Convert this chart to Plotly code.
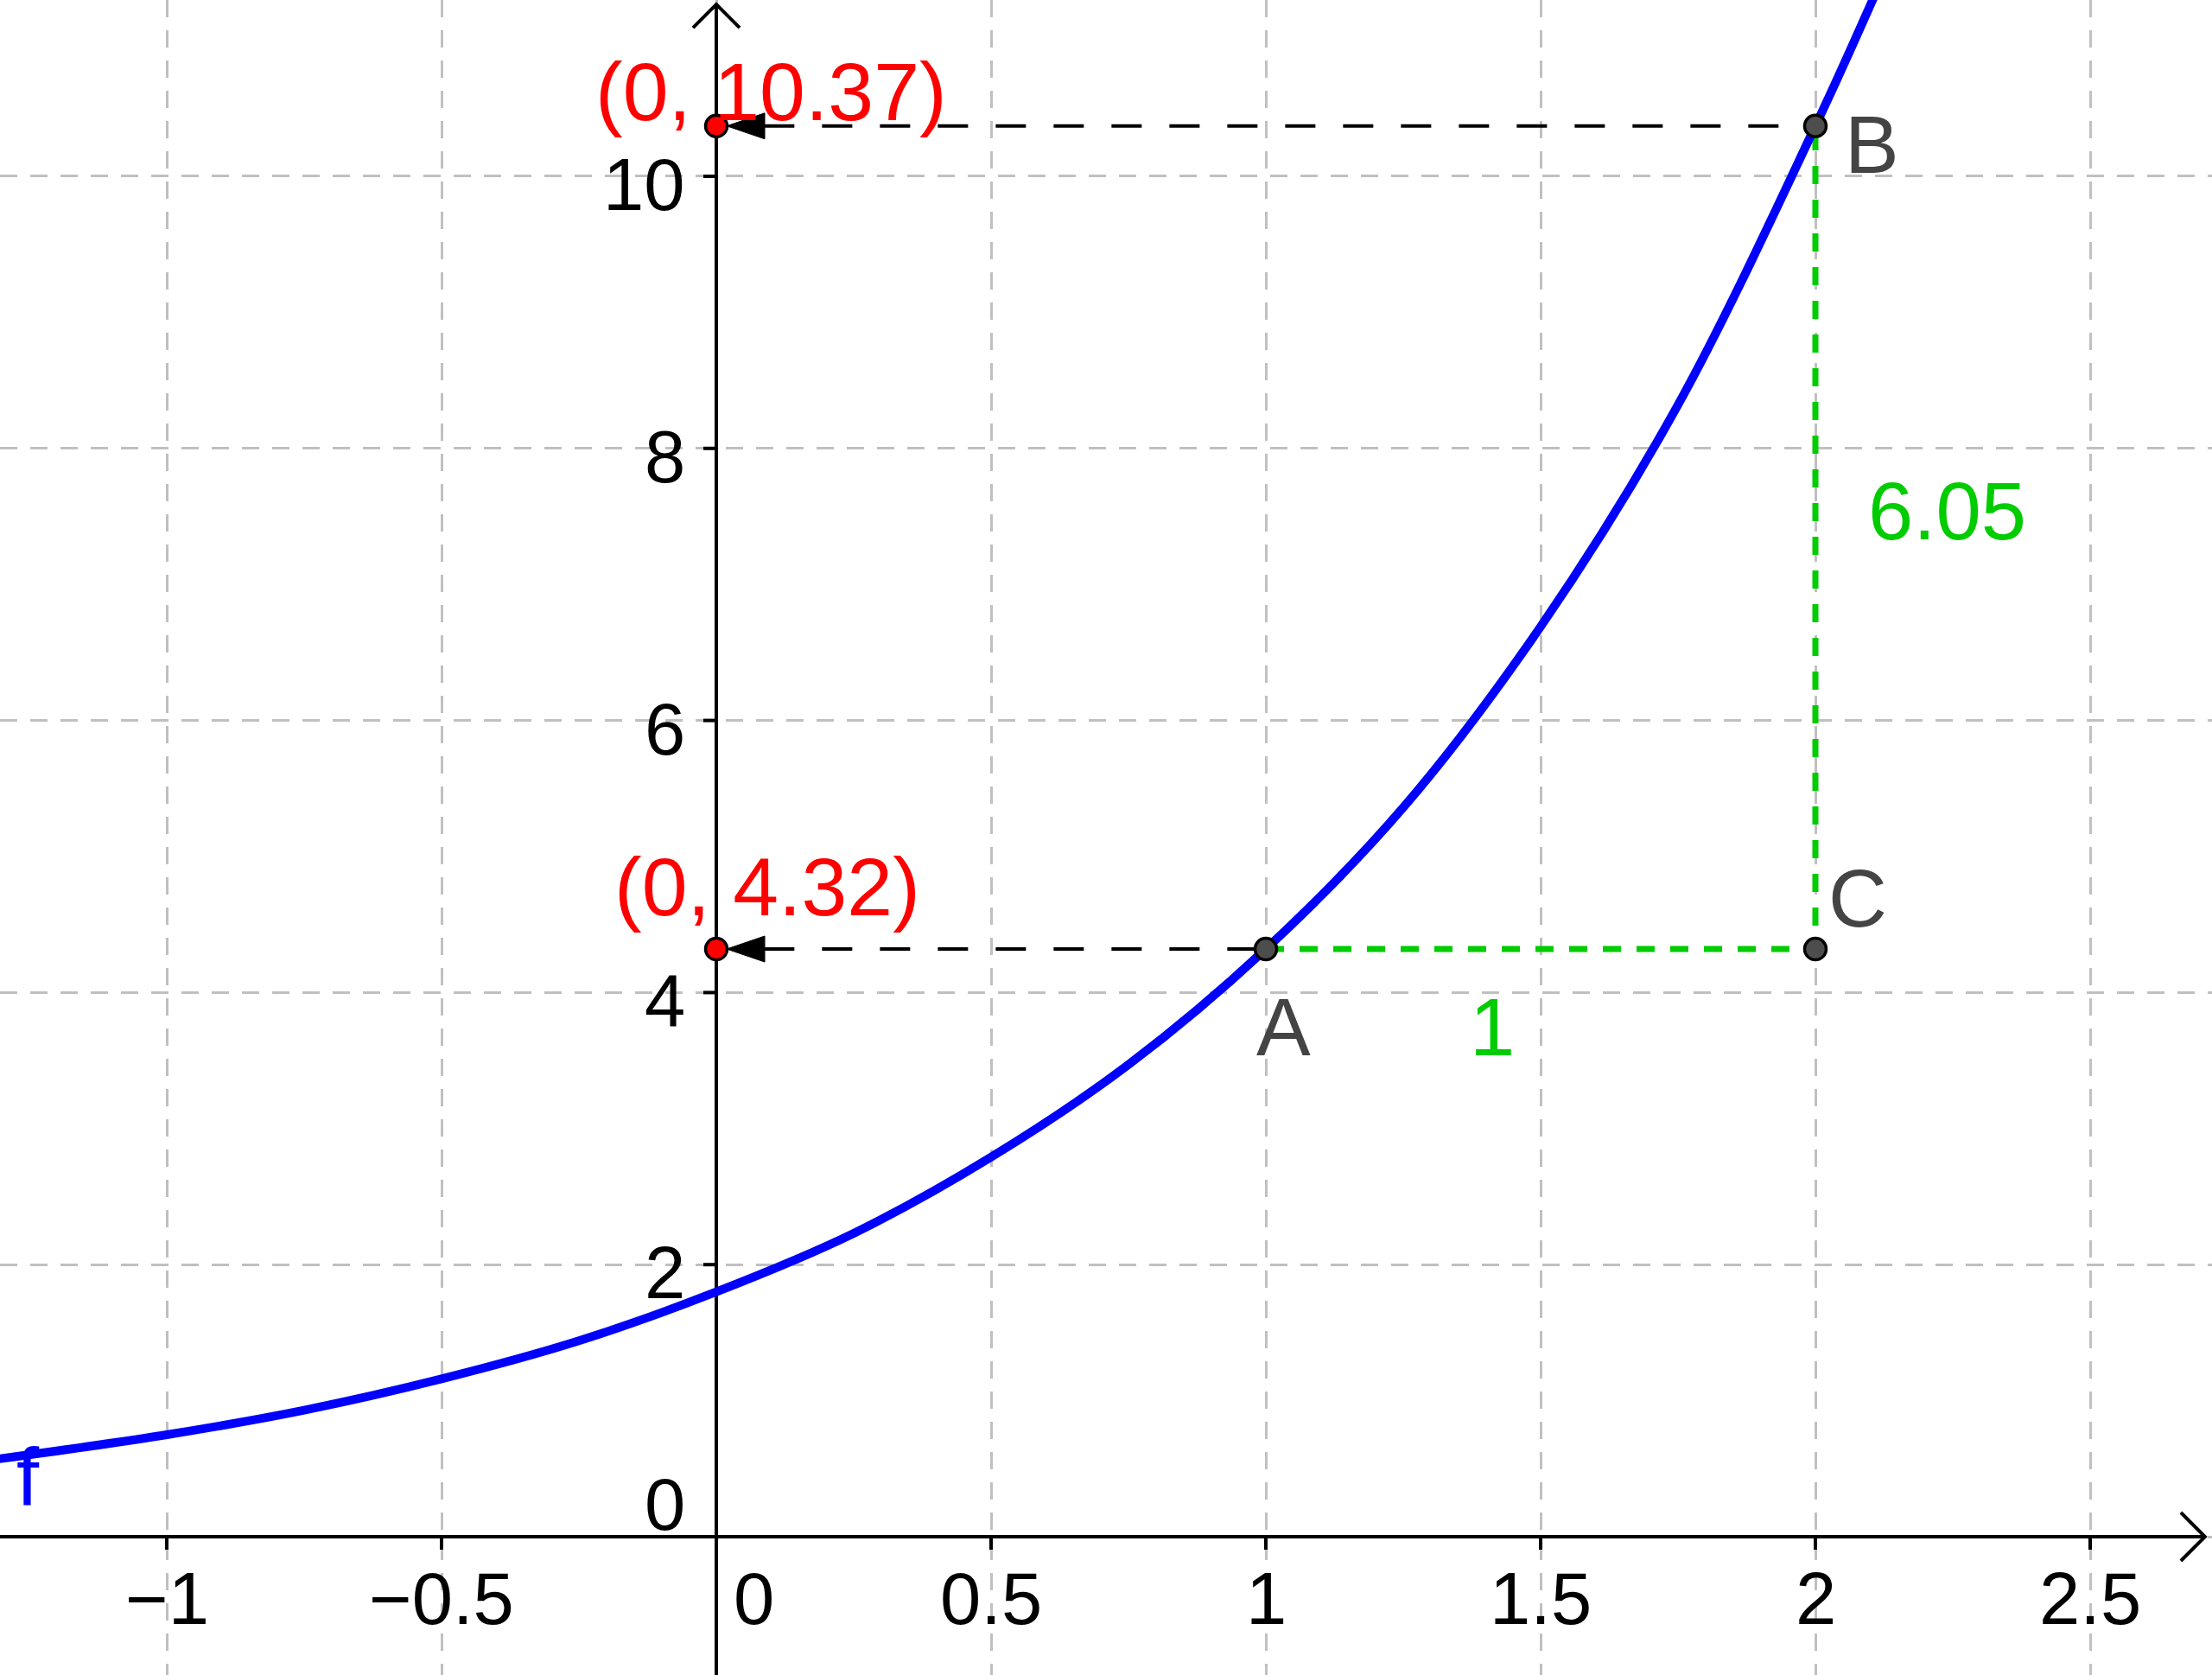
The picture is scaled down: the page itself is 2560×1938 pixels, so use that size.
import plotly.graph_objects as go

# curve f
curve_x = [-1.31, -1.0, -0.75, -0.5, -0.25, 0.0, 0.25, 0.5, 0.75, 1.0, 1.25, 1.5, 1.75, 2.0, 2.11]
curve_y = [0.57, 0.75, 0.93, 1.16, 1.44, 1.8, 2.23, 2.79, 3.47, 4.32, 5.36, 6.69, 8.32, 10.37, 11.35]

# points
pt_names = ["A", "B", "C"]
pt_x = [1, 2, 2]
pt_y = [4.32, 10.37, 4.32]
proj_y = [4.32, 10.37]
proj_labels = ["(0, 4.32)", "(0, 10.37)"]
rise_label = "6.05"
run_label = "1"

x_ticks = [-1, -0.5, 0, 0.5, 1, 1.5, 2, 2.5]
x_tick_text = ["\u22121", "\u22120.5", "0", "0.5", "1", "1.5", "2", "2.5"]
y_ticks = [0, 2, 4, 6, 8, 10]
y_tick_text = ["0", "2", "4", "6", "8", "10"]

FONT = "Liberation Sans, Arial, sans-serif"
BLUE = "#0000ff"
GREEN = "#00cc00"
RED = "#ff0000"
DARK = "#444444"

fig = go.Figure()

# projection dashed lines (black) to the y axis
for yv, xv in [(pt_y[0], pt_x[0]), (pt_y[1], pt_x[1])]:
    fig.add_trace(go.Scatter(x=[0.087, xv], y=[yv, yv], mode="lines",
                             line=dict(color="black", width=4, dash="35px,32px")))
    # arrow head pointing at the y axis
    fig.add_shape(type="path", xsizemode="pixel", ysizemode="pixel", xanchor=0, yanchor=yv,
                  path="M 12 0 L 56 15 L 56 -15 Z", fillcolor="black", line=dict(color="black", width=1))

# green slope triangle
fig.add_trace(go.Scatter(x=[pt_x[0], pt_x[2], pt_x[1]], y=[pt_y[0], pt_y[2], pt_y[1]], mode="lines",
                         line=dict(color=GREEN, width=7, dash="21px,18px")))

# the function
fig.add_trace(go.Scatter(x=curve_x, y=curve_y, mode="lines", line_shape="spline",
                         line=dict(color=BLUE, width=10)))

# red projected points
fig.add_trace(go.Scatter(x=[0] * len(proj_y), y=proj_y, mode="markers",
                         marker=dict(size=25, color=RED, line=dict(color="black", width=3.5))))

# A, B, C
fig.add_trace(go.Scatter(x=pt_x, y=pt_y, mode="markers",
                         marker=dict(size=25, color="#4d4d4d", line=dict(color="black", width=3.5))))

# axes
ax = dict(color="black", width=4)
fig.add_shape(type="line", x0=-1.31, x1=2.709, y0=0, y1=0, line=ax, layer="between")
fig.add_shape(type="line", x0=0, x1=0, y0=-1.02, y1=11.264, line=ax, layer="between")
fig.add_shape(type="path", xsizemode="pixel", ysizemode="pixel", xanchor=2.709, yanchor=0,
              path="M -28 28 L 0 0 L -28 -28", line=ax, layer="between")
fig.add_shape(type="path", xsizemode="pixel", ysizemode="pixel", xanchor=0, yanchor=11.264,
              path="M -27 -27 L 0 0 L 27 -27", line=ax, layer="between")
for t in x_ticks:
    if t != 0:
        fig.add_shape(type="line", ysizemode="pixel", yanchor=0, x0=t, x1=t, y0=0, y1=-15,
                      line=ax, layer="between")
for t in y_ticks:
    if t != 0:
        fig.add_shape(type="line", xsizemode="pixel", xanchor=0, y0=t, y1=t, x0=0, x1=-15,
                      line=ax, layer="between")

# tick labels
for t, s in zip(x_ticks, x_tick_text):
    fig.add_annotation(x=t + (0.069 if t == 0 else 0), y=-0.456, text=s, showarrow=False,
                       xanchor="center", yanchor="middle", font=dict(size=85, color="black", family=FONT))
for t, s in zip(y_ticks, y_tick_text):
    fig.add_annotation(x=-0.054, y=(0.24 if t == 0 else t - 0.06), text=s, showarrow=False,
                       xanchor="right", yanchor="middle", font=dict(size=85, color="black", family=FONT))

# labels
lab = dict(showarrow=False, xanchor="center", yanchor="middle")
fig.add_annotation(x=0.093, y=4.78, text=proj_labels[0], font=dict(size=95, color=RED, family=FONT), **lab)
fig.add_annotation(x=0.10, y=10.62, text=proj_labels[1], font=dict(size=95, color=RED, family=FONT), **lab)
fig.add_annotation(x=1.032, y=3.745, text=pt_names[0], font=dict(size=94, color=DARK, family=FONT), **lab)
fig.add_annotation(x=2.103, y=10.23, text=pt_names[1], font=dict(size=94, color=DARK, family=FONT), **lab)
fig.add_annotation(x=2.077, y=4.69, text=pt_names[2], font=dict(size=94, color=DARK, family=FONT), **lab)
fig.add_annotation(x=1.412, y=3.745, text=run_label, font=dict(size=94, color=GREEN, family=FONT), **lab)
fig.add_annotation(x=2.239, y=7.54, text=rise_label, font=dict(size=94, color=GREEN, family=FONT), **lab)
fig.add_annotation(x=-1.253, y=0.436, text="f", font=dict(size=94, color=BLUE, family=FONT), **lab)

fig.update_layout(
    width=2560, height=1938, margin=dict(l=0, r=0, t=0, b=0),
    paper_bgcolor="white", plot_bgcolor="white", showlegend=False,
    xaxis=dict(range=[-1.3035, 2.7217], tick0=0, dtick=0.5, showgrid=True, gridcolor="#c0c0c0",
               gridwidth=3, griddash="20px,15px", zeroline=False, showticklabels=False, ticks=""),
    yaxis=dict(range=[-1.0165, 11.296], tick0=0, dtick=2, showgrid=True, gridcolor="#c0c0c0",
               gridwidth=3, griddash="20px,15px", zeroline=False, showticklabels=False, ticks=""),
)

fig.write_html("out.html", config={"displayModeBar": False},
               post_script="document.body.style.margin='0px';")
